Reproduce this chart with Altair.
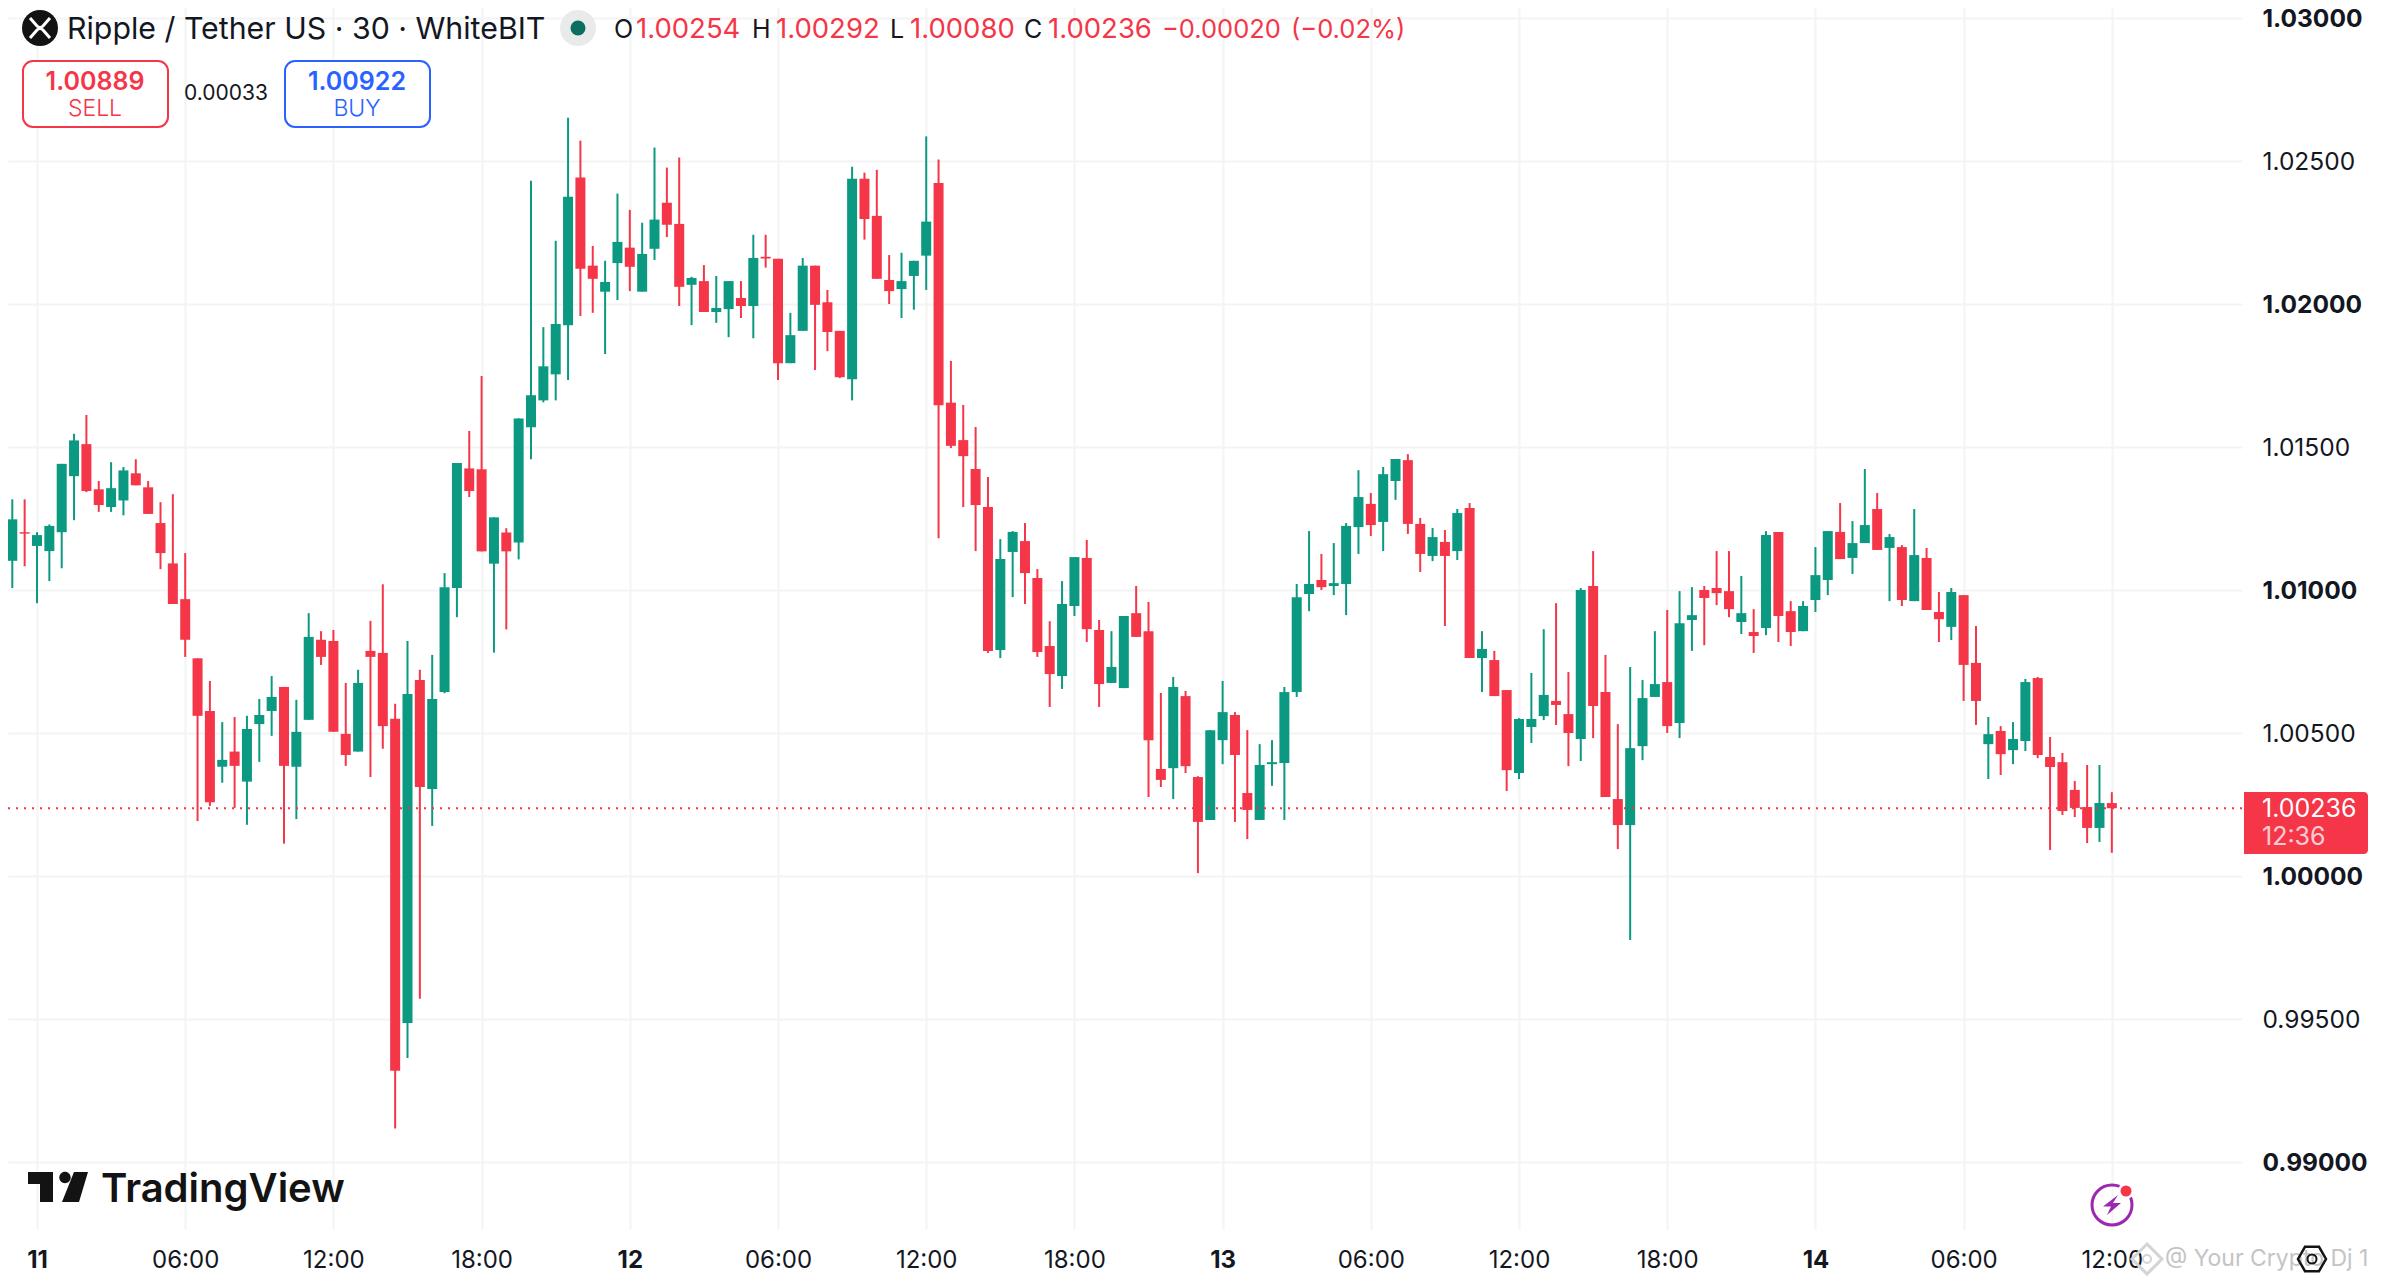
import altair as alt
import pandas as pd

opens = [
1.01101,1.01201,1.01153,1.01135,1.01201,1.01397,1.01509,1.01351,1.01289,1.01312,
1.01407,1.01358,1.01233,1.01092,1.00967,1.00760,1.00576,1.00381,1.00434,1.00329,
1.00530,1.00576,1.00660,1.00381,1.00545,1.00825,1.00821,1.00496,1.00434,1.00786,
1.00779,1.00549,0.99485,1.00684,1.00303,1.00642,1.01006,1.01424,1.01421,1.01091,
1.01200,1.01165,1.01568,1.01662,1.01753,1.01925,1.02441,1.02133,1.02042,1.02142,
1.02196,1.02042,1.02192,1.02353,1.02279,1.02066,1.02079,1.01971,1.01981,1.02020,
1.01992,1.02164,1.02157,1.01792,1.01905,1.02133,1.02005,1.01905,1.01736,1.02437,
1.02307,1.02083,1.02051,1.02097,1.02168,1.02422,1.01654,1.01523,1.01422,1.01289,
1.00789,1.01132,1.01170,1.01041,1.00803,1.00698,1.00943,1.01111,1.00859,1.00674,
1.00656,1.00918,1.00855,1.00373,1.00376,1.00628,1.00345,1.00195,1.00474,1.00562,
1.00289,1.00195,1.00390,1.00394,1.00642,1.00985,1.01034,1.01013,1.01020,1.01219,
1.01300,1.01237,1.01380,1.01453,1.01230,1.01118,1.01167,1.01135,1.01286,1.00761,
1.00754,1.00649,1.00359,1.00520,1.00558,1.00611,1.00565,1.00478,1.01013,1.00642,
1.00268,1.00177,1.00453,1.00625,1.00677,1.00534,1.00894,1.00999,1.01006,1.00995,
1.00887,1.00852,1.00866,1.01202,1.00925,1.00855,1.00964,1.01034,1.01202,1.01111,
1.01163,1.01282,1.01146,1.01149,1.00960,1.01111,1.00922,1.00870,1.00981,1.00744,
1.00460,1.00506,1.00439,1.00471,1.00691,1.00415,1.00397,1.00300,1.00240,1.00167,
1.00254]
highs = [
1.01316,1.01316,1.01201,1.01228,1.01440,1.01545,1.01611,1.01380,1.01446,1.01429,
1.01456,1.01380,1.01306,1.01334,1.01128,1.00760,1.00681,1.00537,1.00555,1.00559,
1.00618,1.00698,1.00660,1.00615,1.00918,1.00855,1.00859,1.00674,1.00720,1.00891,
1.01019,1.00601,1.00821,1.00720,1.00772,1.01058,1.01443,1.01555,1.01747,1.01253,
1.01215,1.01599,1.02430,1.01918,1.02220,1.02650,1.02570,1.02202,1.02150,1.02385,
1.02328,1.02283,1.02546,1.02476,1.02511,1.02094,1.02135,1.02097,1.02079,1.02079,
1.02241,1.02241,1.02157,1.01968,1.02160,1.02133,1.02048,1.01905,1.02479,1.02458,
1.02468,1.02170,1.02178,1.02150,1.02585,1.02504,1.01800,1.01646,1.01569,1.01394,
1.01177,1.01205,1.01233,1.01072,1.00890,1.01030,1.01114,1.01174,1.00894,1.00855,
1.00908,1.01013,1.00957,1.00639,1.00695,1.00646,1.00348,1.00509,1.00681,1.00572,
1.00509,1.00460,1.00474,1.00660,1.01020,1.01205,1.01125,1.01163,1.01233,1.01418,
1.01338,1.01429,1.01457,1.01474,1.01251,1.01216,1.01209,1.01282,1.01303,1.00855,
1.00786,1.00649,1.00551,1.00709,1.00862,1.00953,1.00712,1.01006,1.01135,1.00772,
1.00530,1.00730,1.00684,1.00855,1.00929,1.00995,1.01009,1.01013,1.01135,1.01135,
1.01048,1.00932,1.01205,1.01202,1.00960,1.00960,1.01149,1.01205,1.01303,1.01240,
1.01422,1.01338,1.01195,1.01156,1.01282,1.01146,1.00992,1.01006,1.00981,1.00873,
1.00555,1.00523,1.00537,1.00688,1.00695,1.00485,1.00429,1.00331,1.00387,1.00387,
1.00292]
lows = [
1.01006,1.01082,1.00953,1.01030,1.01075,1.01243,1.01341,1.01272,1.01272,1.01260,
1.01365,1.01265,1.01072,1.00950,1.00765,1.00191,1.00244,1.00325,1.00237,1.00178,
1.00398,1.00489,1.00112,1.00198,1.00545,1.00737,1.00503,1.00384,1.00434,1.00345,
1.00444,0.99116,0.99363,0.99570,1.00174,1.00638,1.00904,1.01324,1.01134,1.00780,
1.00861,1.01106,1.01456,1.01655,1.01662,1.01733,1.01957,1.01968,1.01824,1.02013,
1.02044,1.02042,1.02153,1.02233,1.01992,1.01925,1.01971,1.01933,1.01883,1.01950,
1.01879,1.02126,1.01733,1.01792,1.01905,1.01768,1.01834,1.01740,1.01662,1.02224,
1.02087,1.01999,1.01950,1.01979,1.02048,1.01180,1.01495,1.01289,1.01135,1.00779,
1.00761,1.00974,1.00950,1.00765,1.00590,1.00653,1.00908,1.00817,1.00590,1.00674,
1.00656,1.00835,1.00275,1.00310,1.00268,1.00359,1.00009,1.00195,1.00390,1.00188,
1.00128,1.00195,1.00314,1.00195,1.00625,1.00925,1.00999,1.00981,1.00911,1.01125,
1.01188,1.01135,1.01314,1.01195,1.01062,1.01100,1.00873,1.01104,1.00761,1.00642,
1.00628,1.00296,1.00338,1.00464,1.00544,1.00527,1.00383,1.00401,1.00481,1.00275,
1.00093,0.99775,1.00404,1.00625,1.00499,1.00481,1.00786,1.00806,1.00946,1.00904,
1.00845,1.00779,1.00841,1.00817,1.00803,1.00855,1.00922,1.00981,1.01107,1.01055,
1.01163,1.01139,1.00960,1.00943,1.00960,1.00929,1.00817,1.00824,1.00611,1.00527,
1.00338,1.00352,1.00390,1.00436,1.00411,1.00090,1.00212,1.00205,1.00114,1.00118,
1.00080]
closes = [
1.01246,1.01196,1.01191,1.01223,1.01440,1.01522,1.01345,1.01296,1.01355,1.01417,
1.01365,1.01265,1.01128,1.00950,1.00825,1.00559,1.00257,1.00405,1.00384,1.00513,
1.00562,1.00625,1.00384,1.00503,1.00835,1.00765,1.00503,1.00422,1.00674,1.00765,
1.00523,0.99318,1.00635,1.00310,1.00618,1.01009,1.01443,1.01345,1.01134,1.01253,
1.01134,1.01599,1.01680,1.01781,1.01929,1.02374,1.02122,1.02087,1.02076,1.02216,
1.02129,1.02174,1.02294,1.02276,1.02059,1.02090,1.01971,1.01985,1.02079,1.01992,
1.02160,1.02158,1.01792,1.01890,1.02133,1.01996,1.01901,1.01743,1.02437,1.02296,
1.02087,1.02044,1.02079,1.02150,1.02287,1.01645,1.01503,1.01467,1.01296,1.00786,
1.01107,1.01202,1.01058,1.00782,1.00705,1.00950,1.01114,1.00862,1.00670,1.00730,
1.00908,1.00835,1.00474,1.00335,1.00660,1.00383,1.00188,1.00509,1.00572,1.00422,
1.00230,1.00387,1.00397,1.00642,1.00974,1.01020,1.01009,1.01023,1.01223,1.01324,
1.01226,1.01404,1.01457,1.01230,1.01125,1.01184,1.01118,1.01268,1.00761,1.00793,
1.00628,1.00369,1.00548,1.00548,1.00632,1.00597,1.00499,1.00999,1.00593,1.00275,
1.00177,1.00446,1.00621,1.00670,1.00523,1.00883,1.00911,1.00971,1.00988,1.00932,
1.00918,1.00838,1.01191,1.00908,1.00852,1.00943,1.01051,1.01205,1.01107,1.01163,
1.01226,1.01139,1.01184,1.00964,1.01121,1.00929,1.00897,1.00992,1.00737,1.00611,
1.00495,1.00425,1.00478,1.00677,1.00422,1.00380,1.00226,1.00237,1.00167,1.00254,
1.00236]

price_ticks = [0.99, 0.995, 1.0, 1.005, 1.01, 1.015, 1.02, 1.025, 1.03]
time_labels = ["11","06:00","12:00","18:00","12","06:00","12:00","18:00",
               "13","06:00","12:00","18:00","14","06:00","12:00"]
time_ticks = [2 + 12 * k for k in range(len(time_labels))]
last_price = [1.00236]

UP, DOWN = "#0b9a81", "#f43648"
INK = "#131722"
GRID = "#f3f4f4"
FONT = "Inter"

df = pd.DataFrame({"i": range(len(opens)), "open": opens, "high": highs,
                   "low": lows, "close": closes})
df["dir"] = ["up" if c >= o else "down" for o, c in zip(opens, closes)]
ONE = pd.DataFrame({"a": [0]})

xscale = alt.Scale(domain=[-0.348, 180.54], nice=False, zero=False)
yscale = alt.Scale(domain=[0.987647, 1.030339], nice=False, zero=False)
colorscale = alt.Scale(domain=["up", "down"], range=[UP, DOWN])

label_list = "[" + ",".join("'%s'" % t for t in time_labels) + "]"
xaxis = alt.Axis(
    values=time_ticks, title=None, domain=False, ticks=False, grid=True, gridColor=GRID, gridWidth=2,
    labelExpr=label_list + "[(datum.value-2)/12]", labelFont=FONT, labelFontSize=24, labelColor=INK,
    labelPadding=31, labelBaseline="middle", labelOverlap=False, labelFlush=False,
    labelFontWeight=alt.expr("(datum.value-2)%48==0 ? 'bold' : 'normal'"),
)
yaxis = alt.Axis(
    values=price_ticks, title=None, orient="right", domain=False, ticks=False, grid=True,
    gridColor=GRID, gridWidth=2, format=".5f", labelFont=FONT, labelFontSize=24.5, labelColor=INK,
    labelPadding=20, labelOffset=2, labelOverlap=False, labelFlush=False, labelBaseline="middle",
    labelFontWeight=alt.expr("round(datum.value*1000)%10==0 ? 'bold' : 'normal'"),
)

wicks = alt.Chart(df).mark_rule(strokeWidth=2).encode(
    x=alt.X("i:Q", scale=xscale, axis=xaxis),
    y=alt.Y("low:Q", scale=yscale, axis=yaxis),
    y2="high:Q",
    color=alt.Color("dir:N", scale=colorscale, legend=None),
)
bodies = alt.Chart(df).mark_rule(strokeWidth=10).encode(
    x=alt.X("i:Q", scale=xscale, axis=xaxis),
    y=alt.Y("open:Q", scale=yscale, axis=yaxis),
    y2="close:Q",
    color=alt.Color("dir:N", scale=colorscale, legend=None),
)
price_line = alt.Chart(pd.DataFrame({"p": last_price})).mark_rule(
    color=DOWN, strokeWidth=2, strokeDash=[2, 6]
).encode(y=alt.Y("p:Q", scale=yscale, axis=yaxis))


def X(v):
    return alt.value(v - 8)


def Y(v):
    return alt.value(v - 8)


def text(s, x, y, size, color=INK, weight="normal", align="left", font=FONT, opacity=1.0):
    return alt.Chart(ONE).mark_text(
        text=s, fontSize=size, color=color, fontWeight=weight, align=align,
        baseline="middle", font=font, opacity=opacity,
    ).encode(x=X(x), y=Y(y))


def box(x0, x1, y0, y1, stroke):
    return alt.Chart(ONE).mark_rect(fill="#ffffff", stroke=stroke, strokeWidth=2, cornerRadius=10).encode(
        x=X(x0), x2=X(x1), y=Y(y0), y2=Y(y1))


def sym(shape, x, y, d, color, filled=True, sw=0):
    return alt.Chart(ONE).mark_point(
        shape=shape, size=d * d, filled=filled, color=color, strokeWidth=sw, opacity=1,
    ).encode(x=X(x), y=Y(y))


TV_LOGO = ("M-1,-0.5 L-0.167,-0.5 L-0.167,0.5 L-0.6,0.5 L-0.6,-0.1 L-1,-0.1 Z "
           "M0.533,-0.5 L1,-0.5 L0.7,0.5 L0.133,0.5 Z "
           "M0.043,-0.317 A0.19,0.19 0 1 1 0.423,-0.317 A0.19,0.19 0 1 1 0.043,-0.317 Z")
XRP = "M-1,-1 L-0.3,-0.2 Q0,0.1 0.3,-0.2 L1,-1 M-1,1 L-0.3,0.2 Q0,-0.1 0.3,0.2 L1,1"
BOLT = "M0.6,-1 L-0.9,0.15 L-0.1,0.15 L-0.5,1 L0.9,-0.2 L0.1,-0.2 Z"
HEX = "M-1,0 L-0.5,-0.87 L0.5,-0.87 L1,0 L0.5,0.87 L-0.5,0.87 Z"
DIAMOND = "M0,-1 L1,0 L0,1 L-1,0 Z"

HEAD_Y = 30
layers = [
    wicks, bodies, price_line,
    # header
    sym("circle", 40, 28, 36, "#131313"),
    sym(XRP, 40, 28, 20, "#ffffff", filled=False, sw=3),
    text("Ripple / Tether US · 30 · WhiteBIT", 67, HEAD_Y, 30.3),
    sym("circle", 578, 28, 36, "#e9ebeb"),
    sym("circle", 578, 28, 15, "#0b6e5e"),
    text("O", 614, HEAD_Y, 25), text("1.00254", 636, HEAD_Y, 27.5, DOWN),
    text("H", 752, HEAD_Y, 25), text("1.00292", 776, HEAD_Y, 27.5, DOWN),
    text("L", 890, HEAD_Y, 25), text("1.00080", 910, HEAD_Y, 27.5, DOWN),
    text("C", 1024, HEAD_Y, 25), text("1.00236", 1048, HEAD_Y, 27.5, DOWN),
    text("−0.00020", 1162, HEAD_Y, 25.5, DOWN), text("(−0.02%)", 1291, HEAD_Y, 25.5, DOWN),
    # buy / sell
    box(23, 168, 61, 127, DOWN),
    text("1.00889", 95, 82, 25, DOWN, 600, "center"),
    text("SELL", 95, 109, 23, DOWN, 300, "center"),
    text("0.00033", 226, 94, 21, INK, "normal", "center"),
    box(285, 430, 61, 127, "#2962ff"),
    text("1.00922", 357, 82, 25, "#2962ff", 600, "center"),
    text("BUY", 357, 109, 23, "#2962ff", 300, "center"),
    # logo
    sym(TV_LOGO, 58, 1187, 60, "#131313"),
    text("TradingView", 101, 1190, 40, "#131313", 600),
    # last price tag
    alt.Chart(ONE).mark_rect(fill=DOWN, cornerRadiusTopRight=4, cornerRadiusBottomRight=4).encode(
        x=X(2244), x2=X(2368), y=Y(792), y2=Y(854)),
    text("1.00236", 2262, 809, 25, "#ffffff"),
    text("12:36", 2262, 837, 25, "#ffffff", opacity=0.75),
    # flash icon
    sym("circle", 2112, 1205, 40, "#9c27b0", filled=False, sw=3),
    sym(BOLT, 2112, 1205, 20, "#9c27b0"),
    sym("circle", 2126, 1191, 16, "#ffffff"),
    sym("circle", 2126, 1191, 11, DOWN),
    # watermark
    sym(DIAMOND, 2147, 1259, 30, "#d4d4d4", filled=False, sw=3),
    sym("circle", 2147, 1259, 8, "#d4d4d4", filled=False, sw=2),
    text("@ Your Crypto Dj 1", 2165, 1259, 23, "#c4c4c4"),
    sym(HEX, 2312, 1259, 28, "#131313", filled=False, sw=2.5),
    sym("circle", 2312, 1259, 9, "#131313", filled=False, sw=2),
]

chart = alt.layer(*layers).properties(
    width=2234, height=1221, background="#ffffff",
    autosize=alt.AutoSizeParams(type="none"),
    padding={"left": 0, "top": 0, "right": 132, "bottom": 47},
).configure_view(strokeWidth=0)

chart.save("out.html", embed_options={"renderer": "svg", "actions": False})
